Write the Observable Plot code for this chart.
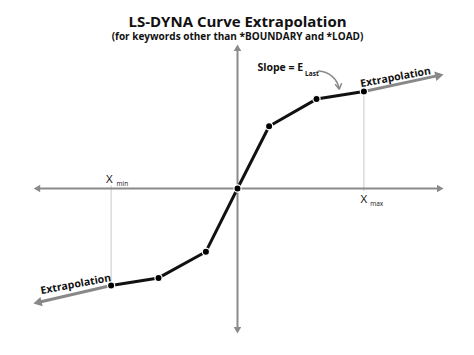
<!DOCTYPE html>
<html><head><meta charset="utf-8">
<script src="https://cdn.jsdelivr.net/npm/d3@7"></script>
<script src="https://cdn.jsdelivr.net/npm/@observablehq/plot@0.6"></script>
<style>body{margin:0;background:#fff}</style>
</head><body><div id="chart"></div>
<script>
// Curve data (arbitrary units)
const curveX = [-4, -2.5, -1, 0, 1, 2.5, 4];
const curveY = [-3.07, -2.83, -2.0, 0, 1.97, 2.83, 3.07];
// Extrapolation end points
const extrapX = [6.52, -6.46];
const extrapY = [3.61, -3.64];
// Axis extents
const axisXExtent = [-6.45, 6.52];
const axisYExtent = [-4.59, 4.56];
const labels = {
  title: "LS-DYNA Curve Extrapolation",
  subtitle: "(for keywords other than *BOUNDARY and *LOAD)",
  extrap: "Extrapolation",
  slope: "Slope = E",
  slopeSub: "Last",
  x: "X", xmin: "min", xmax: "max"
};

const FONT = "Open Sans, sans-serif";
const unitPx = 474 / 15;
const n = curveX.length;
const pts = curveX.map((x, i) => ({x, y: curveY[i]}));

function head(x1, y1, x2, y2, r) {
  const dx = x2 - x1, dy = y2 - y1, L = Math.hypot(dx, dy);
  const tip = 2 * Math.sqrt((Math.PI * r * r) / (Math.sqrt(3) * 3)) / unitPx;
  return {x: x2 - dx / L * tip, y: y2 - dy / L * tip, rot: Math.atan2(dx, dy) * 180 / Math.PI, sx: x2 - dx / L * tip * 0.6, sy: y2 - dy / L * tip * 0.6};
}
const axisSegs = [
  [0, 0, axisXExtent[1], 0], [0, 0, axisXExtent[0], 0],
  [0, 0, 0, axisYExtent[1]], [0, 0, 0, axisYExtent[0]]
].map(([x1, y1, x2, y2]) => ({x1, y1, x2, y2, ...head(x1, y1, x2, y2, 2.8)}));
const extrapSegs = [
  [curveX[n - 1], curveY[n - 1], extrapX[0], extrapY[0]],
  [curveX[0], curveY[0], extrapX[1], extrapY[1]]
].map(([x1, y1, x2, y2]) => ({x1, y1, x2, y2, ...head(x1, y1, x2, y2, 3.6)}));

const extrapAngle = -Math.atan2(extrapY[0] - curveY[n-1], extrapX[0] - curveX[n-1]) * 180 / Math.PI + 1.5;

const gray = "#8a8a8a";
const chart = Plot.plot({
  width: 474, height: 355,
  margin: 0,
  x: {domain: [-7.5, 7.5], axis: null},
  y: {domain: [-5.285, 5.95], axis: null},
  marks: [
    Plot.ruleX([curveX[0]], {y1: 0.08, y2: curveY[0], stroke: "#c8c8c8", strokeWidth: 1}),
    Plot.ruleX([curveX[n-1]], {y1: -0.1, y2: curveY[n-1], stroke: "#c8c8c8", strokeWidth: 1}),
    Plot.link(axisSegs, {x1: "x1", y1: "y1", x2: "sx", y2: "sy", stroke: gray, strokeWidth: 2}),
    Plot.dot(axisSegs, {x: "x", y: "y", r: 2.8, symbol: "triangle", rotate: "rot", fill: gray, stroke: "none"}),
    Plot.link(extrapSegs, {x1: "x1", y1: "y1", x2: "sx", y2: "sy", stroke: "#888", strokeWidth: 3}),
    Plot.dot(extrapSegs, {x: "x", y: "y", r: 3.6, symbol: "triangle", rotate: "rot", fill: "#888", stroke: "none"}),
    Plot.line(pts, {x: "x", y: "y", stroke: "#111", strokeWidth: 3}),
    Plot.dot(pts, {x: "x", y: "y", r: 3.6, fill: "#000", stroke: "#fff", strokeWidth: 1.2}),
    Plot.arrow([{x1: 2.56, y1: 3.72, x2: 3.22, y2: 3.14}], {x1: "x1", y1: "y1", x2: "x2", y2: "y2", bend: 40, stroke: gray, strokeWidth: 1.5, headLength: 6}),
    Plot.text([labels.title], {frameAnchor: "top", dy: 15.5, fontSize: 15, fontWeight: "bold", fill: "#111", fontFamily: FONT}),
    Plot.text([labels.subtitle], {frameAnchor: "top", dy: 32.5, fontSize: 10, fontWeight: "bold", fill: "#111", fontFamily: FONT}),
    Plot.text([labels.extrap], {x: 5.0, y: 3.52, rotate: extrapAngle, fontSize: 10.5, fontWeight: "bold", fill: "#111", fontFamily: FONT}),
    Plot.text([labels.extrap], {x: -5.12, y: -3.03, rotate: extrapAngle, fontSize: 10.5, fontWeight: "bold", fill: "#111", fontFamily: FONT}),
    Plot.text([labels.slope], {x: 0.63, y: 3.84, textAnchor: "start", fontSize: 10.5, fontWeight: "bold", fill: "#111", fontFamily: FONT}),
    Plot.text([labels.slopeSub], {x: 2.14, y: 3.62, textAnchor: "start", fontSize: 6.5, fontWeight: "bold", fill: "#111", fontFamily: FONT}),
    Plot.text([labels.x], {x: curveX[0] - 0.06, y: 0.3, fontSize: 11.5, fill: "#111", fontFamily: FONT}),
    Plot.text([labels.xmin], {x: curveX[0] + 0.17, y: 0.14, textAnchor: "start", fontSize: 6.5, fill: "#111", fontFamily: FONT}),
    Plot.text([labels.x], {x: curveX[n-1], y: -0.35, fontSize: 11.5, fill: "#111", fontFamily: FONT}),
    Plot.text([labels.xmax], {x: curveX[n-1] + 0.2, y: -0.5, textAnchor: "start", fontSize: 6.5, fill: "#111", fontFamily: FONT})
  ]
});
document.getElementById("chart").appendChild(chart);
</script>
</body></html>
